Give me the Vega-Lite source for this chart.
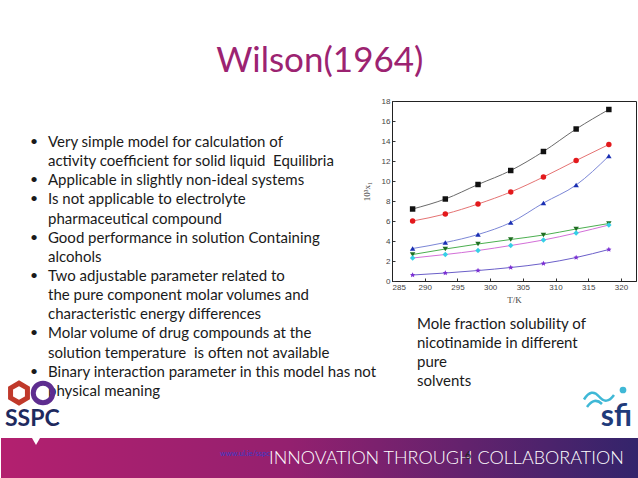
{
  "$schema": "https://vega.github.io/schema/vega-lite/v6.json",
  "background": "white",
  "padding": {"left": 0, "top": 44, "right": 0, "bottom": 0},
  "config": {"view": {"stroke": null}, "font": "Lato"},
  "title": {
    "text": "Wilson(1964)",
    "font": "Lato",
    "fontSize": 35,
    "fontWeight": "normal",
    "color": "#9c2371",
    "anchor": "middle",
    "offset": 17.5
  },
  "bounds": "full",
  "spacing": 0,
  "vconcat": [
    {
      "bounds": "flush",
      "spacing": 0,
      "hconcat": [
        {
          "width": 391,
          "height": 337,
          "data": {
            "values": [
              {"line": 0, "bullet": true, "text": "Very simple model for calculation of"},
              {"line": 1, "bullet": false, "text": "activity coefficient for solid liquid \u00a0Equilibria"},
              {"line": 2, "bullet": true, "text": "Applicable in slightly non-ideal systems"},
              {"line": 3, "bullet": true, "text": "Is not applicable to electrolyte"},
              {"line": 4, "bullet": false, "text": "pharmaceutical compound"},
              {"line": 5, "bullet": true, "text": "Good performance in solution Containing"},
              {"line": 6, "bullet": false, "text": "alcohols"},
              {"line": 7, "bullet": true, "text": "Two adjustable parameter related to"},
              {"line": 8, "bullet": false, "text": "the pure component molar volumes and"},
              {"line": 9, "bullet": false, "text": "\u00a0characteristic energy differences"},
              {"line": 10, "bullet": true, "text": "Molar volume of drug compounds at the"},
              {"line": 11, "bullet": false, "text": "\u00a0solution temperature \u00a0is often not available"},
              {"line": 12, "bullet": true, "text": "Binary interaction parameter in this model has not"},
              {"line": 13, "bullet": false, "text": "physical meaning"}
            ]
          },
          "encoding": {
            "y": {
              "field": "line",
              "type": "quantitative",
              "scale": {"domain": [-2.141, 15.457], "reverse": true, "nice": false, "zero": false},
              "axis": null
            }
          },
          "layer": [
            {
              "mark": {"type": "text", "align": "left", "baseline": "middle", "fontSize": 15, "color": "#1a1a1a"},
              "encoding": {"x": {"value": 47}, "text": {"field": "text"}}
            },
            {
              "transform": [{"filter": "datum.bullet"}],
              "mark": {"type": "text", "text": "•", "align": "left", "baseline": "middle", "fontSize": 14, "color": "#1a1a1a"},
              "encoding": {"x": {"value": 29}}
            },
            {
              "data": {"values": [{"logo": "SSPC"}]},
              "layer": [
                {
                  "mark": {"type": "point", "shape": "M0.866,-0.5L0.866,0.5L0,1L-0.866,0.5L-0.866,-0.5L0,-1Z", "filled": false, "stroke": "#c0392b", "strokeWidth": 5, "size": 380, "opacity": 1},
                  "encoding": {"x": {"value": 18}, "y": {"value": 292}}
                },
                {
                  "mark": {"type": "point", "shape": "circle", "filled": false, "stroke": "#5e2d8f", "strokeWidth": 5, "size": 380, "opacity": 1},
                  "encoding": {"x": {"value": 42}, "y": {"value": 292}}
                },
                {
                  "mark": {"type": "text", "align": "left", "baseline": "alphabetic", "fontSize": 23, "fontWeight": "bold", "color": "#1e2a5e"},
                  "encoding": {"x": {"value": 4}, "y": {"value": 325}, "text": {"field": "logo"}}
                }
              ]
            }
          ]
        },
        {
          "bounds": "flush",
          "spacing": 20,
          "vconcat": [
            {
              "width": 244,
              "height": 180,
              "view": {"stroke": "#222", "strokeWidth": 1},
              "data": {
                "values": [
                  {"T": 288.15, "x1": 7.2, "solvent": "S1"},
                  {"T": 293.15, "x1": 8.2, "solvent": "S1"},
                  {"T": 298.15, "x1": 9.65, "solvent": "S1"},
                  {"T": 303.15, "x1": 11.05, "solvent": "S1"},
                  {"T": 308.15, "x1": 12.95, "solvent": "S1"},
                  {"T": 313.15, "x1": 15.2, "solvent": "S1"},
                  {"T": 318.15, "x1": 17.15, "solvent": "S1"},
                  {"T": 288.15, "x1": 6.0, "solvent": "S2"},
                  {"T": 293.15, "x1": 6.7, "solvent": "S2"},
                  {"T": 298.15, "x1": 7.7, "solvent": "S2"},
                  {"T": 303.15, "x1": 8.9, "solvent": "S2"},
                  {"T": 308.15, "x1": 10.4, "solvent": "S2"},
                  {"T": 313.15, "x1": 12.05, "solvent": "S2"},
                  {"T": 318.15, "x1": 13.65, "solvent": "S2"},
                  {"T": 288.15, "x1": 3.25, "solvent": "S3"},
                  {"T": 293.15, "x1": 3.85, "solvent": "S3"},
                  {"T": 298.15, "x1": 4.65, "solvent": "S3"},
                  {"T": 303.15, "x1": 5.85, "solvent": "S3"},
                  {"T": 308.15, "x1": 7.8, "solvent": "S3"},
                  {"T": 313.15, "x1": 9.6, "solvent": "S3"},
                  {"T": 318.15, "x1": 12.5, "solvent": "S3"},
                  {"T": 288.15, "x1": 2.65, "solvent": "S4"},
                  {"T": 293.15, "x1": 3.2, "solvent": "S4"},
                  {"T": 298.15, "x1": 3.7, "solvent": "S4"},
                  {"T": 303.15, "x1": 4.15, "solvent": "S4"},
                  {"T": 308.15, "x1": 4.6, "solvent": "S4"},
                  {"T": 313.15, "x1": 5.2, "solvent": "S4"},
                  {"T": 318.15, "x1": 5.75, "solvent": "S4"},
                  {"T": 288.15, "x1": 2.3, "solvent": "S5"},
                  {"T": 293.15, "x1": 2.65, "solvent": "S5"},
                  {"T": 298.15, "x1": 3.05, "solvent": "S5"},
                  {"T": 303.15, "x1": 3.55, "solvent": "S5"},
                  {"T": 308.15, "x1": 4.1, "solvent": "S5"},
                  {"T": 313.15, "x1": 4.8, "solvent": "S5"},
                  {"T": 318.15, "x1": 5.6, "solvent": "S5"},
                  {"T": 288.15, "x1": 0.6, "solvent": "S6"},
                  {"T": 293.15, "x1": 0.8, "solvent": "S6"},
                  {"T": 298.15, "x1": 1.05, "solvent": "S6"},
                  {"T": 303.15, "x1": 1.35, "solvent": "S6"},
                  {"T": 308.15, "x1": 1.75, "solvent": "S6"},
                  {"T": 313.15, "x1": 2.35, "solvent": "S6"},
                  {"T": 318.15, "x1": 3.15, "solvent": "S6"}
                ]
              },
              "encoding": {
                "x": {
                  "field": "T",
                  "type": "quantitative",
                  "scale": {"domain": [285, 322.3], "nice": false, "zero": false},
                  "axis": {
                    "values": [285, 290, 295, 300, 305, 310, 315, 320],
                    "title": "T/K",
                    "titleFont": "Liberation Serif",
                    "titleFontSize": 9,
                    "titleFontWeight": "normal",
                    "titleColor": "#444",
                    "titlePadding": 4,
                    "labelFont": "Liberation Sans",
                    "labelFontSize": 8,
                    "labelColor": "#444",
                    "tickSize": -3,
                    "tickColor": "#333",
                    "labelPadding": 5,
                    "domainColor": "#222",
                    "grid": false
                  }
                },
                "y": {
                  "field": "x1",
                  "type": "quantitative",
                  "scale": {"domain": [0, 18], "nice": false},
                  "axis": {
                    "values": [0, 2, 4, 6, 8, 10, 12, 14, 16, 18],
                    "title": "10³x₁",
                    "titleFont": "Liberation Serif",
                    "titleFontSize": 9,
                    "titleFontWeight": "normal",
                    "titleColor": "#444",
                    "titlePadding": 10,
                    "labelFont": "Liberation Sans",
                    "labelFontSize": 8,
                    "labelColor": "#444",
                    "tickSize": -3,
                    "tickColor": "#333",
                    "labelPadding": 5,
                    "domainColor": "#222",
                    "grid": false
                  }
                }
              },
              "layer": [
                {
                  "mark": {"type": "line", "interpolate": "monotone", "strokeWidth": 1},
                  "encoding": {
                    "stroke": {
                      "field": "solvent",
                      "type": "nominal",
                      "scale": {"domain": ["S1", "S2", "S3", "S4", "S5", "S6"], "range": ["#6a6a6a", "#e57373", "#7b86d6", "#4caf50", "#d36fd8", "#6b5fc9"]},
                      "legend": null
                    }
                  }
                },
                {
                  "mark": {"type": "point", "filled": true, "size": 30, "opacity": 1},
                  "encoding": {
                    "color": {
                      "field": "solvent",
                      "type": "nominal",
                      "scale": {"domain": ["S1", "S2", "S3", "S4", "S5", "S6"], "range": ["#111111", "#e3191c", "#1a2fb3", "#1f6e22", "#35cfe6", "#7b2fd3"]},
                      "legend": null
                    },
                    "shape": {
                      "field": "solvent",
                      "type": "nominal",
                      "scale": {
                        "domain": ["S1", "S2", "S3", "S4", "S5", "S6"],
                        "range": ["square", "circle", "triangle-up", "triangle-down", "diamond", "M0,-1L0.29,-0.4L0.95,-0.31L0.47,0.15L0.59,0.81L0,0.5L-0.59,0.81L-0.47,0.15L-0.95,-0.31L-0.29,-0.4Z"]
                      },
                      "legend": null
                    }
                  }
                }
              ]
            },
            {
              "width": 244,
              "height": 137,
              "layer": [
                {
                  "data": {
                    "values": [
                      {"line": 0, "text": "Mole fraction solubility of"},
                      {"line": 1, "text": "\u00a0nicotinamide in different"},
                      {"line": 2, "text": "pure"},
                      {"line": 3, "text": "solvents"}
                    ]
                  },
                  "mark": {"type": "text", "align": "left", "baseline": "middle", "fontSize": 15, "color": "#1a1a1a"},
                  "encoding": {
                    "x": {"value": 25},
                    "y": {
                      "field": "line",
                      "type": "quantitative",
                      "scale": {"domain": [-1.211, 6.0], "reverse": true, "nice": false, "zero": false},
                      "axis": null
                    },
                    "text": {"field": "text"}
                  }
                },
                {
                  "data": {"values": [{"logo": "sfi"}]},
                  "layer": [
                    {
                      "mark": {"type": "text", "align": "right", "baseline": "alphabetic", "fontSize": 30, "fontWeight": "bold", "color": "#1f3b7a"},
                      "encoding": {"x": {"value": 240}, "y": {"value": 125}, "text": {"field": "logo"}}
                    },
                    {
                      "mark": {"type": "point", "shape": "circle", "filled": true, "color": "#3fb8d6", "size": 45, "opacity": 1},
                      "encoding": {"x": {"value": 231}, "y": {"value": 89}}
                    },
                    {
                      "mark": {"type": "point", "shape": "M-1,0.3Q-0.5,-0.5 0,0.1T1,0M-0.8,0.8Q-0.3,0.1 0.2,0.6", "filled": false, "stroke": "#3fb8d6", "strokeWidth": 2.5, "size": 900, "opacity": 1},
                      "encoding": {"x": {"value": 207}, "y": {"value": 94}}
                    }
                  ]
                }
              ]
            }
          ]
        }
      ]
    },
    {
      "width": 638,
      "height": 41,
      "data": {"values": [{"label": "INNOVATION THROUGH COLLABORATION", "site": "www.ul.ie/sspc", "page": "6"}]},
      "layer": [
        {
          "mark": {
            "type": "rect",
            "color": {
              "gradient": "linear",
              "x1": 0, "y1": 0, "x2": 1, "y2": 0,
              "stops": [
                {"offset": 0, "color": "#b3206f"},
                {"offset": 0.45, "color": "#94206f"},
                {"offset": 1, "color": "#33246b"}
              ]
            }
          },
          "encoding": {"x": {"value": 0}, "x2": {"value": "width"}, "y": {"value": 0}, "y2": {"value": "height"}}
        },
        {
          "mark": {"type": "point", "shape": "triangle-down", "filled": true, "color": "white", "size": 260, "opacity": 1, "clip": true},
          "encoding": {"x": {"value": 35}, "y": {"value": 0}}
        },
        {
          "mark": {"type": "text", "align": "left", "baseline": "middle", "fontSize": 7.5, "color": "#3c3cc8"},
          "encoding": {"x": {"value": 219}, "y": {"value": 16}, "text": {"field": "site"}}
        },
        {
          "mark": {"type": "text", "align": "left", "baseline": "middle", "fontSize": 18, "fontWeight": 300, "color": "white"},
          "encoding": {"x": {"value": 268}, "y": {"value": 21}, "text": {"field": "label"}}
        },
        {
          "mark": {"type": "text", "align": "center", "baseline": "middle", "fontSize": 11, "color": "#222"},
          "encoding": {"x": {"value": 467}, "y": {"value": 18}, "text": {"field": "page"}}
        }
      ]
    }
  ]
}
